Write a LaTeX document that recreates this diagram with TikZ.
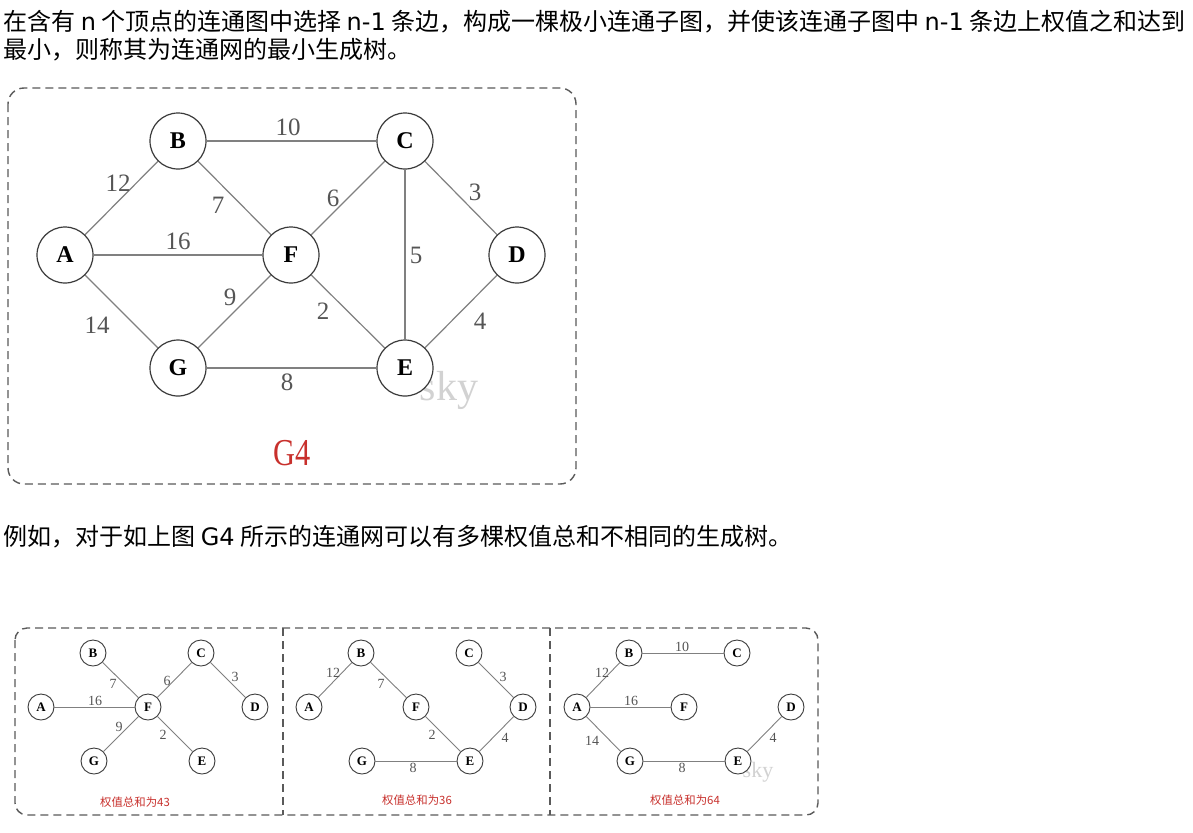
\documentclass[tikz,border=0pt]{standalone}
\usepackage{fontspec}
\setmainfont{Liberation Serif}
\newfontfamily\cjkfont{Noto Sans CJK SC}
\newfontfamily\latfont{DejaVu Sans}
\usetikzlibrary{positioning}
\definecolor{cRing}{HTML}{3A3A3A}
\definecolor{cEdge}{HTML}{808080}
\definecolor{cWeight}{HTML}{555555}
\definecolor{cFrame}{HTML}{5A5A5A}
\definecolor{cRed}{HTML}{C8302C}
\definecolor{cMark}{HTML}{D2D2D2}

\begin{document}
\begin{tikzpicture}[
  x=0.5pt, y=-0.5pt,
  txt/.style={anchor=west, inner sep=0pt, font=\cjkfont\fontsize{12}{14}\selectfont},
  frame/.style={draw=cFrame, line width=0.7pt, dash pattern=on 4pt off 2.5pt},
  vbig/.style={circle, draw=cRing, line width=0.6pt, fill=white, minimum size=28pt,
               inner sep=0pt, font=\fontsize{12}{12}\selectfont\bfseries},
  vsmall/.style={circle, draw=cRing, line width=0.45pt, fill=white, minimum size=13pt,
                 inner sep=0pt, font=\fontsize{6.5}{6.5}\selectfont\bfseries},
  edge/.style={draw=cEdge, line width=0.6pt},
  sedge/.style={draw=cEdge, line width=0.45pt},
  wbig/.style={text=cWeight, inner sep=0pt, font=\fontsize{12.5}{12.5}\selectfont},
  wsmall/.style={text=cWeight, inner sep=0pt, font=\fontsize{7}{7}\selectfont},
  total/.style={text=cRed, inner sep=0pt, font=\cjkfont\fontsize{5.7}{6}\selectfont},
  wmark/.style={text=cMark, inner sep=0pt},
]
\useasboundingbox[fill=white] (0,0) rectangle (1193,832);

% ====================== text above ======================================
\node[txt] (line1) at (3,22)
  {在含有 {\latfont n} 个顶点的连通图中选择 {\latfont n-1} 条边，构成一棵极小连通子图，并使该连通子图中 {\latfont n-1} 条边上权值之和达到};
\node[txt] (line2) at (3,50) {最小，则称其为连通网的最小生成树。};

% ====================== G4 ==============================================
\draw[frame, rounded corners=8pt] (8,88) rectangle (576,484);
\node[wmark, font=\fontsize{21}{21}\selectfont] (sky) at (449,390) {sky};
\node[vbig] (A) at (65,255) {A};
\node[vbig] (B) at (178,141) {B};
\node[vbig] (C) at (405,141) {C};
\node[vbig] (D) at (517,255) {D};
\node[vbig] (F) at (291,255) {F};
\node[vbig] (G) at (178,368) {G};
\node[vbig] (E) at (405,368) {E};
\draw[edge] (A) -- (B);  \draw[edge] (A) -- (F);  \draw[edge] (A) -- (G);
\draw[edge] (B) -- (C);  \draw[edge] (B) -- (F);  \draw[edge] (C) -- (F);
\draw[edge] (C) -- (D);  \draw[edge] (C) -- (E);  \draw[edge] (F) -- (G);
\draw[edge] (F) -- (E);  \draw[edge] (D) -- (E);  \draw[edge] (G) -- (E);
\node[wbig] (wAB) at (118,183) {12};
\node[wbig] (wAF) at (178,241) {16};
\node[wbig] (wAG) at (97,325) {14};
\node[wbig] (wBC) at (288,127) {10};
\node[wbig] (wBF) at (218,205) {7};
\node[wbig] (wCF) at (333,198) {6};
\node[wbig] (wCD) at (475,192) {3};
\node[wbig] (wCE) at (416,255) {5};
\node[wbig] (wFG) at (230,297) {9};
\node[wbig] (wFE) at (323,311) {2};
\node[wbig] (wDE) at (480,321) {4};
\node[wbig] (wGE) at (287,382) {8};
\node[text=cRed, inner sep=0pt, font=\fontsize{19}{19}\selectfont] (g4) at (292,453)
  {\scalebox{0.8}[1]{G4}};

% ====================== text between ====================================
\node[txt] (line3) at (3,537)
  {例如，对于如上图 {\latfont G4} 所示的连通网可以有多棵权值总和不相同的生成树。};

% ====================== three spanning trees ============================
\draw[frame, rounded corners=6pt] (15,628) rectangle (818,815);
\draw[frame] (283,628) -- (283,815);
\draw[frame] (550,628) -- (550,815);

% tree 1: sum 43
\node[vsmall] (A1) at (41,707) {A};  \node[vsmall] (B1) at (93,653) {B};
\node[vsmall] (C1) at (201,653) {C}; \node[vsmall] (D1) at (255,707) {D};
\node[vsmall] (F1) at (148,707) {F}; \node[vsmall] (G1) at (94,761) {G};
\node[vsmall] (E1) at (202,761) {E};
\draw[sedge] (A1) -- (F1);  \draw[sedge] (B1) -- (F1);  \draw[sedge] (C1) -- (F1);
\draw[sedge] (C1) -- (D1);  \draw[sedge] (F1) -- (G1);  \draw[sedge] (F1) -- (E1);
\node[wsmall] (w1AF) at (95,701) {16};
\node[wsmall] (w1BF) at (113,684) {7};
\node[wsmall] (w1CF) at (167,681) {6};
\node[wsmall] (w1CD) at (235,677) {3};
\node[wsmall] (w1FG) at (119,727) {9};
\node[wsmall] (w1FE) at (163,735) {2};
\node[total] (sum1) at (135,802) {权值总和为43};

% tree 2: sum 36
\begin{scope}[shift={(268,0)}]
\node[vsmall] (A2) at (41,707) {A};  \node[vsmall] (B2) at (93,653) {B};
\node[vsmall] (C2) at (201,653) {C}; \node[vsmall] (D2) at (255,707) {D};
\node[vsmall] (F2) at (148,707) {F}; \node[vsmall] (G2) at (94,761) {G};
\node[vsmall] (E2) at (202,761) {E};
\draw[sedge] (A2) -- (B2);  \draw[sedge] (B2) -- (F2);  \draw[sedge] (C2) -- (D2);
\draw[sedge] (F2) -- (E2);  \draw[sedge] (D2) -- (E2);  \draw[sedge] (G2) -- (E2);
\node[wsmall] (w2AB) at (65,673) {12};
\node[wsmall] (w2BF) at (113,684) {7};
\node[wsmall] (w2CD) at (235,677) {3};
\node[wsmall] (w2FE) at (164,735) {2};
\node[wsmall] (w2DE) at (237,738) {4};
\node[wsmall] (w2GE) at (145,768) {8};
\node[total] (sum2) at (149,800) {权值总和为36};
\end{scope}

% tree 3: sum 64
\begin{scope}[shift={(536,0)}]
\node[wmark, font=\fontsize{11}{11}\selectfont] (sky3) at (222,772) {sky};
\node[vsmall] (A3) at (41,707) {A};  \node[vsmall] (B3) at (93,653) {B};
\node[vsmall] (C3) at (201,653) {C}; \node[vsmall] (D3) at (255,707) {D};
\node[vsmall] (F3) at (148,707) {F}; \node[vsmall] (G3) at (94,761) {G};
\node[vsmall] (E3) at (202,761) {E};
\draw[sedge] (B3) -- (C3);  \draw[sedge] (A3) -- (B3);  \draw[sedge] (A3) -- (F3);
\draw[sedge] (A3) -- (G3);  \draw[sedge] (G3) -- (E3);  \draw[sedge] (E3) -- (D3);
\node[wsmall] (w3BC) at (146,647) {10};
\node[wsmall] (w3AB) at (66,673) {12};
\node[wsmall] (w3AF) at (95,701) {16};
\node[wsmall] (w3AG) at (56,741) {14};
\node[wsmall] (w3GE) at (146,768) {8};
\node[wsmall] (w3ED) at (237,738) {4};
\node[total] (sum3) at (149,800) {权值总和为64};
\end{scope}

\end{tikzpicture}
\end{document}
